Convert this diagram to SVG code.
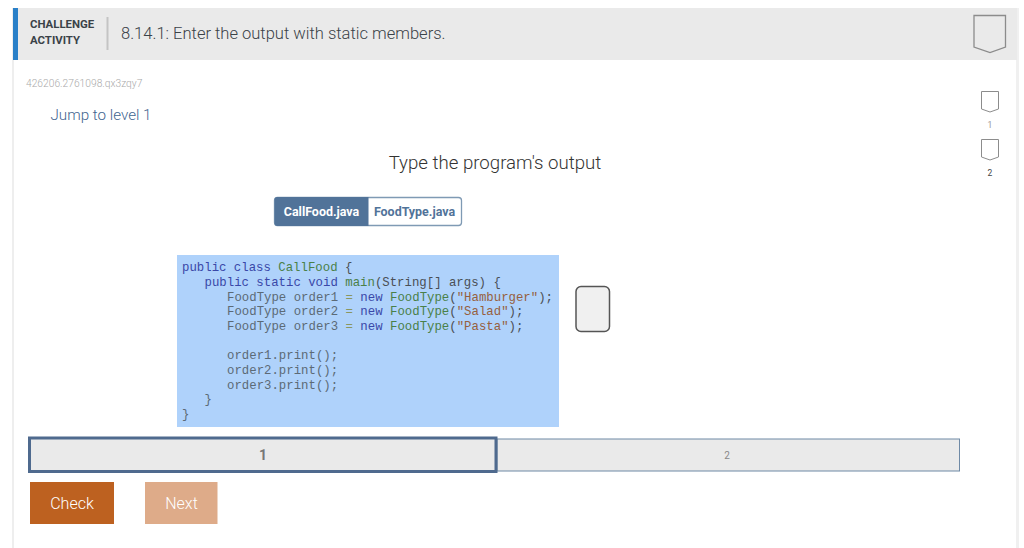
<svg xmlns="http://www.w3.org/2000/svg" width="1024" height="548" viewBox="0 0 1024 548">
<style>
text{font-family:Roboto,"Liberation Sans",sans-serif}
.code{font-family:"Liberation Mono","Courier New",monospace;font-size:12.35px;fill:#5c6a76;white-space:pre}
.k{fill:#3a48a8}.t{fill:#4a8048}.s{fill:#96603e}.p{fill:#4a4f55}.o{fill:#8a9660}
.badge{fill:none;stroke:#8c8c8c;stroke-width:1.3}
.small{stroke-width:1}
</style>
<rect width="1024" height="548" fill="#fff"/>
<rect x="12" y="8" width="2" height="540" fill="#eee"/>
<rect x="1016" y="8" width="3" height="540" fill="#f0f0f0"/>
<g id="header">
<rect x="13" y="8" width="1004" height="52" fill="#eaeaea"/>
<rect x="13" y="8" width="5" height="52" fill="#2a80c8"/>
<text x="30" y="28" font-size="11.400" font-weight="700" fill="#3a4248">CHALLENGE</text>
<text x="30" y="44" font-size="11.400" font-weight="700" fill="#3a4248">ACTIVITY</text>
<rect x="106.500" y="17" width="2" height="33" fill="#c4c4c4"/>
<text x="121" y="39" font-size="16.550" font-weight="300" fill="#3a4248">8.14.1: Enter the output with static members.</text>
<path class="badge" d="M974 15.500H1005.500V47L990 52.500L974 47Z"/>
</g>
<text x="26" y="87" font-size="10.250" font-weight="300" fill="#aaa">426206.2761098.qx3zqy7</text>
<text x="50.500" y="120" font-size="15.200" font-weight="300" fill="#3f6590">Jump to level 1</text>
<g id="level-1">
<path class="badge small" d="M981.500 91.500H998.500V109L990 112L981.500 109Z"/>
<text x="990" y="128" font-size="8.500" fill="#999" text-anchor="middle">1</text>
</g>
<g id="level-2">
<path class="badge small" d="M981.500 139.500H998.500V157L990 160L981.500 157Z"/>
<text x="990" y="176" font-size="8.500" fill="#444" text-anchor="middle">2</text>
</g>
<text x="495" y="169" font-size="18.650" font-weight="300" fill="#333" text-anchor="middle">Type the program's output</text>
<g id="tabs">
<rect x="274.500" y="197.500" width="187" height="28" rx="3" fill="#fff" stroke="#7f9ab4" stroke-width="1.300"/>
<path d="M368.500 197H277.500A3 3 0 0 0 274.500 200V223A3 3 0 0 0 277.500 226H368.500Z" fill="#517399"/>
<text x="321.500" y="216" font-size="12.450" font-weight="700" fill="#fff" text-anchor="middle">CallFood.java</text>
<text x="414.500" y="216" font-size="12.450" font-weight="700" fill="#517399" text-anchor="middle">FoodType.java</text>
</g>
<g id="code">
<rect x="177" y="255" width="382" height="172" fill="#afd2fb"/>
<text class="code" y="271" xml:space="preserve"><tspan x="182" class="k">public class</tspan><tspan class="t"> CallFood</tspan><tspan class="p"> {</tspan></text>
<text class="code" y="286" xml:space="preserve"><tspan x="204.500" class="k">public static void</tspan><tspan class="t"> main</tspan><tspan class="p">(String[] args) {</tspan></text>
<text class="code" y="300.500" xml:space="preserve"><tspan x="227">FoodType order1 </tspan><tspan class="o">=</tspan><tspan class="k"> new</tspan><tspan class="t"> FoodType</tspan><tspan class="p">(</tspan><tspan class="s">"Hamburger"</tspan><tspan class="p">);</tspan></text>
<text class="code" y="315" xml:space="preserve"><tspan x="227">FoodType order2 </tspan><tspan class="o">=</tspan><tspan class="k"> new</tspan><tspan class="t"> FoodType</tspan><tspan class="p">(</tspan><tspan class="s">"Salad"</tspan><tspan class="p">);</tspan></text>
<text class="code" y="330" xml:space="preserve"><tspan x="227">FoodType order3 </tspan><tspan class="o">=</tspan><tspan class="k"> new</tspan><tspan class="t"> FoodType</tspan><tspan class="p">(</tspan><tspan class="s">"Pasta"</tspan><tspan class="p">);</tspan></text>
<text class="code" x="227" y="359">order1.print();</text>
<text class="code" x="227" y="374">order2.print();</text>
<text class="code" x="227" y="388.500">order3.print();</text>
<text class="code" x="204.500" y="403">}</text>
<text class="code" x="182" y="417.500">}</text>
</g>
<g id="output-box">
<rect x="576" y="286.500" width="33.500" height="45" rx="5" fill="#f0f0f0" stroke="#555" stroke-width="1.500"/>
</g>
<g id="progress-2">
<rect x="497" y="439" width="462.500" height="32" fill="#eaeaea" stroke="#6f8aa6"/>
<text x="727" y="459" font-size="10" fill="#888" text-anchor="middle">2</text>
</g>
<g id="progress-1">
<rect x="29.500" y="438" width="466.500" height="33.500" fill="#eaeaea" stroke="#4f6a8e" stroke-width="3"/>
<text x="263" y="460" font-size="14" font-weight="700" fill="#777" text-anchor="middle">1</text>
</g>
<g id="check">
<rect x="30" y="482" width="84" height="42" fill="#bd6120"/>
<text x="72" y="509" font-size="16" font-weight="300" fill="#fff" text-anchor="middle">Check</text>
</g>
<g id="next">
<rect x="145" y="482" width="72.500" height="42" fill="#deab89"/>
<text x="181.500" y="509" font-size="16" font-weight="300" fill="#fff" text-anchor="middle">Next</text>
</g>
</svg>
